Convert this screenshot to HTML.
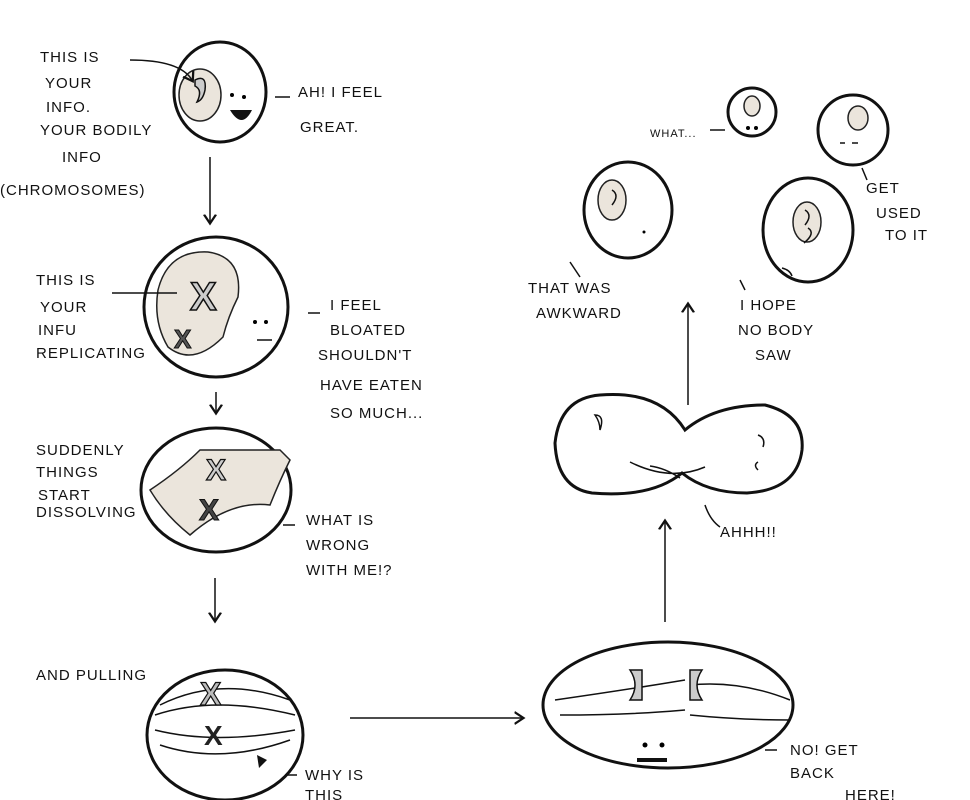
<!DOCTYPE html>
<html><head><meta charset="utf-8"><style>
html,body{margin:0;padding:0;background:#fff}
svg{display:block}
text{font-family:"Liberation Sans",sans-serif;font-size:15px;fill:#111;letter-spacing:1px}
.c{fill:#fff;stroke:#111;stroke-width:3}
.n{fill:#ebe5dc;stroke:#222;stroke-width:1.5}
.l{fill:none;stroke:#111;stroke-width:1.5}
.ch{fill:#ccc;stroke:#111;stroke-width:1.5}
</style></head><body>
<svg width="970" height="800" viewBox="0 0 970 800" xmlns="http://www.w3.org/2000/svg">
<defs><marker id="a" markerWidth="10" markerHeight="10" refX="5" refY="5" orient="auto"><path d="M0,1 L6,5 L0,9" fill="none" stroke="#111" stroke-width="1.5"/></marker></defs>
<!-- cell 1 -->
<ellipse class="c" cx="220" cy="92" rx="46" ry="50"/>
<ellipse class="n" cx="200" cy="95" rx="21" ry="26"/>
<path class="ch" d="M195,80 q12,-6 10,10 q-2,10 -8,12 q6,-12 -2,-16z"/>
<circle cx="232" cy="95" r="2"/><circle cx="244" cy="97" r="2"/>
<path d="M230,110 q12,20 22,0z" fill="#111"/>
<text x="40" y="62">THIS IS</text><text x="45" y="88">YOUR</text><text x="46" y="112">INFO.</text><text x="40" y="135">YOUR BODILY</text><text x="62" y="162">INFO</text><text x="0" y="195">(CHROMOSOMES)</text>
<path class="l" d="M130,60 q50,0 62,20" marker-end="url(#a)"/>
<path class="l" d="M275,97 h15"/><text x="298" y="97">AH! I FEEL</text><text x="300" y="132">GREAT.</text>
<path class="l" d="M210,157 v65" marker-end="url(#a)"/>
<!-- cell 2 -->
<ellipse class="c" cx="216" cy="307" rx="72" ry="70"/>
<path class="n" d="M158,290 q10,-40 50,-38 q35,5 30,45 q-10,20 -15,40 q-30,30 -55,10 q-15,-25 -10,-57z"/>
<text x="190" y="310" style="font-size:40px;font-weight:bold;fill:#ccc;stroke:#111;stroke-width:1.5">X</text>
<text x="174" y="348" style="font-size:26px;font-weight:bold;fill:#555;stroke:#111">X</text>
<circle cx="255" cy="322" r="2"/><circle cx="266" cy="322" r="2"/><path class="l" d="M257,340 h15"/>
<text x="36" y="285">THIS IS</text><text x="40" y="312">YOUR</text><text x="38" y="335">INFU</text><text x="36" y="358">REPLICATING</text>
<path class="l" d="M112,293 h65"/>
<path class="l" d="M308,313 h12"/>
<text x="330" y="310">I FEEL</text><text x="330" y="335">BLOATED</text><text x="318" y="360">SHOULDN'T</text><text x="320" y="390">HAVE EATEN</text><text x="330" y="418">SO MUCH...</text>
<path class="l" d="M216,392 v20" marker-end="url(#a)"/>
<!-- cell 3 -->
<ellipse class="c" cx="216" cy="490" rx="75" ry="62"/>
<path class="n" d="M150,490 q30,-20 50,-40 h80 l10,10 q-10,20 -20,45 q-40,-5 -80,30 q-25,-20 -40,-45z"/>
<text x="206" y="480" style="font-size:30px;font-weight:bold;fill:#ccc;stroke:#111;stroke-width:1.2">X</text>
<text x="199" y="520" style="font-size:30px;font-weight:bold;fill:#444;stroke:#111">X</text>
<path class="l" d="M283,525 h12"/>
<text x="36" y="455">SUDDENLY</text><text x="36" y="477">THINGS</text><text x="38" y="500">START</text><text x="36" y="517">DISSOLVING</text>
<text x="306" y="525">WHAT IS</text><text x="306" y="550">WRONG</text><text x="306" y="575">WITH ME!?</text>
<path class="l" d="M215,578 v42" marker-end="url(#a)"/>
<!-- cell 4 -->
<ellipse class="c" cx="225" cy="735" rx="78" ry="65"/>
<path class="l" d="M155,715 q60,-20 140,0 M155,730 q60,15 140,0 M160,705 q60,-30 130,-5 M160,745 q60,20 130,-5"/>
<text x="200" y="705" style="font-size:32px;font-weight:bold;fill:#bbb;stroke:#111;stroke-width:1.2">X</text>
<text x="204" y="745" style="font-size:28px;font-weight:bold;fill:#222">X</text>
<path d="M257,755 l10,5 l-8,8z" fill="#111"/>
<text x="36" y="680">AND PULLING</text>
<path class="l" d="M285,775 h12"/><text x="305" y="780">WHY IS</text><text x="305" y="800">THIS</text>
<path class="l" d="M350,718 h172" marker-end="url(#a)"/>
<!-- cell 5 -->
<ellipse class="c" cx="668" cy="705" rx="125" ry="63"/>
<path class="l" d="M555,700 q70,-10 130,-20 M560,715 q70,0 125,-5 M790,700 q-50,-20 -100,-15 M790,720 q-50,0 -100,-5"/>
<path class="ch" d="M630,670 h12 v30 h-12 q10,-15 0,-30z" fill="#aaa"/>
<path class="ch" d="M690,670 h12 q-10,15 0,30 h-12z" fill="#aaa"/>
<circle cx="645" cy="745" r="2.5"/><circle cx="662" cy="745" r="2.5"/><path d="M637,760 h30" stroke="#111" stroke-width="4"/>
<path class="l" d="M765,750 h12"/><text x="790" y="755">NO! GET</text><text x="790" y="778">BACK</text><text x="845" y="800">HERE!</text>
<path class="l" d="M665,622 v-100" marker-end="url(#a)"/>
<!-- dumbbell -->
<path class="c" d="M600,395 q60,-5 85,35 q30,-25 80,-25 q40,10 37,45 q-5,40 -55,43 q-40,0 -65,-20 q-30,25 -90,20 q-35,-5 -37,-50 q5,-45 45,-48z"/>
<path class="l" d="M630,462 q40,20 75,5 M680,478 q-15,-10 -30,-12"/>
<path d="M595,415 q10,0 5,15 q0,-8 -5,-15z M758,435 q8,3 5,12 M758,470 q-5,-5 0,-8" class="l" stroke-width="3"/>
<path class="l" d="M705,505 q5,15 15,22"/><text x="720" y="537">AHHH!!</text>
<path class="l" d="M688,405 v-100" marker-end="url(#a)"/>
<!-- small cells -->
<ellipse class="c" cx="628" cy="210" rx="44" ry="48"/><ellipse class="n" cx="612" cy="200" rx="14" ry="20"/>
<path class="l" d="M612,190 q8,5 0,15" stroke-width="3"/><circle cx="644" cy="232" r="1.5"/>
<path class="l" d="M570,262 l10,15"/><text x="528" y="293">THAT WAS</text><text x="536" y="318">AWKWARD</text>
<ellipse class="c" cx="808" cy="230" rx="45" ry="52"/><ellipse class="n" cx="807" cy="222" rx="14" ry="20"/>
<path class="l" d="M805,210 q8,5 0,15 M808,228 q8,5 -4,15" stroke-width="3"/>
<path class="l" d="M782,268 q8,2 10,8"/>
<path class="l" d="M745,290 l-5,-10"/><text x="740" y="310">I HOPE</text><text x="738" y="335">NO BODY</text><text x="755" y="360">SAW</text>
<circle class="c" cx="752" cy="112" r="24"/><ellipse class="n" cx="752" cy="106" rx="8" ry="10"/>
<circle cx="748" cy="128" r="2"/><circle cx="756" cy="128" r="2"/>
<path class="l" d="M710,130 h15"/><text x="650" y="137" style="font-size:11px">WHAT...</text>
<circle class="c" cx="853" cy="130" r="35"/><ellipse class="n" cx="858" cy="118" rx="10" ry="12"/>
<path class="l" d="M840,143 h5 M852,143 h6"/>
<path class="l" d="M862,168 l5,12"/><text x="866" y="193">GET</text><text x="876" y="218">USED</text><text x="885" y="240">TO IT</text>
</svg>
</body></html>
